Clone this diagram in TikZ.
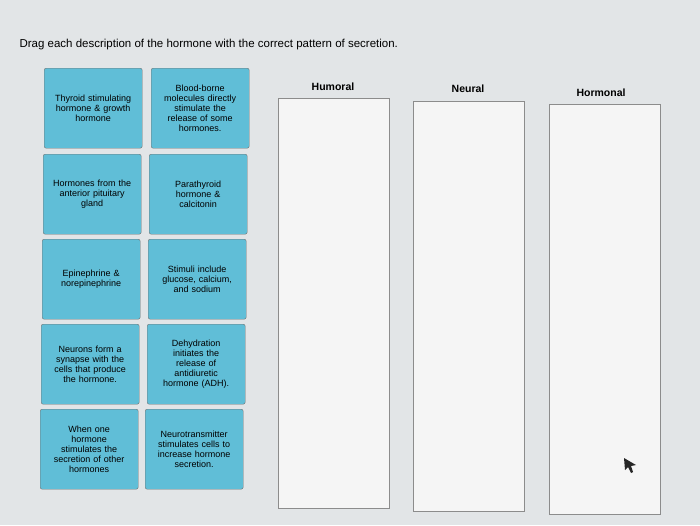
\documentclass[tikz,border=0pt]{standalone}
\usepackage{fontspec}
\setmainfont{Liberation Sans}
\begin{document}
\begin{tikzpicture}[x=1pt,y=-1pt,
 card/.style={draw=black!55,fill=cardc,rounded corners=2pt,minimum width=98pt,minimum height=80pt,align=center,font=\fontsize{9}{10}\selectfont,text width=92pt,anchor=north west,inner sep=2pt},
 col/.style={draw=black!45,fill=white!96!black,anchor=north west,minimum width=111pt,minimum height=410pt},
 head/.style={font=\bfseries\fontsize{10.5}{12}\selectfont}]
\definecolor{cardc}{RGB}{96,190,215}
\definecolor{bg}{RGB}{226,229,231}
\fill[bg] (0,0) rectangle (700,525);
\useasboundingbox (0,0) rectangle (700,525);
\node[anchor=west,font=\fontsize{11.5}{13}\selectfont] (title) at (16,45) {Drag each description of the hormone with the correct pattern of secretion.};
\node[card] (a1) at (44,68) {Thyroid stimulating\\hormone \& growth\\hormone\\[20pt]};
\node[card] (b1) at (151,68) {Blood-borne\\molecules directly\\stimulate the\\release of some\\hormones.};
\node[card] (a2) at (43,154) {Hormones from the\\anterior pituitary\\gland\\[14pt]};
\node[card] (b2) at (149,154) {Parathyroid\\hormone \&\\calcitonin\\[14pt]};
\node[card] (a3) at (42,239) {Epinephrine \&\\norepinephrine};
\node[card] (b3) at (148,239) {Stimuli include\\glucose, calcium,\\and sodium};
\node[card] (a4) at (41,324) {Neurons form a\\synapse with the\\cells that produce\\the hormone.};
\node[card] (b4) at (147,324) {Dehydration\\initiates the\\release of\\antidiuretic\\hormone (ADH).};
\node[card] (a5) at (40,409) {When one\\hormone\\stimulates the\\secretion of other\\hormones};
\node[card] (b5) at (145,409) {Neurotransmitter\\stimulates cells to\\increase hormone\\secretion.};
\node[col] (c1) at (278,98) {};
\node[col] (c2) at (413,101) {};
\node[col] (c3) at (549,104) {};
\node[head] (h1) at (333,87) {Humoral};
\node[head] (h2) at (468,89) {Neural};
\node[head] (h3) at (601,93) {Hormonal};
\fill[black!85] (624,458) -- (636,465) -- (631,466) -- (633,472) -- (631,473) -- (628,467) -- (625,470) -- cycle;
\end{tikzpicture}
\end{document}
